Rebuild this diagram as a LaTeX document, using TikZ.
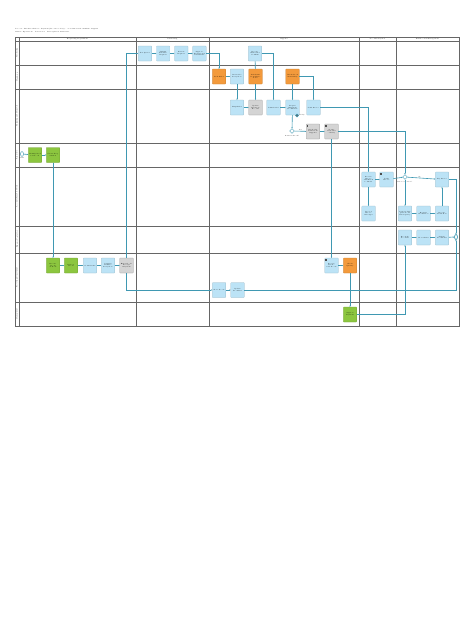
\documentclass[tikz,border=0pt]{standalone}
\usepackage{tikz}
\usepackage{xcolor}
\usetikzlibrary{positioning,arrows.meta,shapes.geometric}

\definecolor{taskblue}{HTML}{BCE3F6}
\definecolor{taskgreen}{HTML}{8CC63F}
\definecolor{taskorange}{HTML}{F39A3C}
\definecolor{taskgray}{HTML}{D4D4D4}
\definecolor{flowteal}{HTML}{3F98B2}
\definecolor{laneline}{HTML}{666666}

\tikzset{
    box/.style={rounded corners=0.6pt, minimum width=13.5pt, minimum height=15pt,
        text width=12pt, align=center, inner sep=0.5pt, font=\fontsize{1.5}{1.8}\selectfont},
    task/.style={box, fill=taskblue, draw=taskblue!80!black, line width=0.15pt},
    grouptask/.style={box, fill=taskgreen, draw=taskgreen!80!black, line width=0.15pt},
    manualtask/.style={box, fill=taskorange, draw=taskorange!80!black, line width=0.15pt},
    systask/.style={box, fill=taskgray, draw=taskgray!70!black, line width=0.15pt},
    gate/.style={diamond, draw=flowteal, fill=white, line width=0.35pt, minimum size=5pt, inner sep=0pt},
    event/.style={ellipse, draw=flowteal, fill=white, line width=0.4pt, minimum width=3pt, minimum height=5pt, inner sep=0pt},
    flow/.style={draw=flowteal, line width=0.6pt, -{Stealth[length=1.4pt,width=1.3pt]}},
    lane/.style={draw=laneline, line width=0.7pt},
    tinytext/.style={font=\fontsize{1.5}{1.8}\selectfont, inner sep=0.3pt},
    icon/.style={fill=black!70, minimum width=1.4pt, minimum height=1.8pt, inner sep=0pt}
}

\begin{document}
\begin{tikzpicture}[x=1pt, y=-1pt]
    \useasboundingbox (0,0) rectangle (474,632);

    % title lines
    \node[tinytext, anchor=west] (title1) at (15,29.5) {Process: Purchase Order to Payment (Procure-to-Pay) -- cross-functional swimlane diagram};
    \node[tinytext, anchor=west] (title2) at (15,32.5) {Owner: Operations \quad Version 1.0 \quad Last updated 2021-03-15};

    % frame, lanes and columns
    \draw[lane] (15,37) rectangle (459,326);
    \draw[lane, line width=0.4pt] (15,41) -- (459,41);
    \foreach \y in {65,89,143,167,226,253,302}
        \draw[lane] (15,\y) -- (459,\y);
    \draw[lane, line width=0.4pt] (19,37) -- (19,326);
    \foreach \x in {136,209,359,396}
        \draw[lane] (\x,37) -- (\x,326);

    % column headers
    \node[tinytext] (colA) at (77.5,39) {Requesting Department};
    \node[tinytext] (colB) at (172.5,39) {Purchasing};
    \node[tinytext] (colC) at (284,39) {Supplier};
    \node[tinytext] (colD) at (377.5,39) {Accounts Payable};
    \node[tinytext] (colE) at (427.5,39) {Finance and Management};

    % lane labels
    \node[tinytext, rotate=90] (laneA) at (17,53) {Purchasing};
    \node[tinytext, rotate=90] (laneB) at (17,77) {Warehouse};
    \node[tinytext, rotate=90] (laneC) at (17,116) {Shipping and Dispatch};
    \node[tinytext, rotate=90] (laneD) at (17,155) {Requester};
    \node[tinytext, rotate=90] (laneE) at (17,196.5) {Accounts Payable Clerk};
    \node[tinytext, rotate=90] (laneF) at (17,239.5) {Finance Controller};
    \node[tinytext, rotate=90] (laneG) at (17,277.5) {Receiving Department};
    \node[tinytext, rotate=90] (laneH) at (17,314) {Management};

    % lane 1
    \node[task] (quote) at (145,53.5) {Get Quotes};
    \node[task, right=4.5pt of quote] (submit) {Submit Purchase Request};
    \node[task, right=4.5pt of submit] (review) {Review Request};
    \node[task, right=4.5pt of review] (approve) {Approve Request and Send Order};
    \node[task] (receive) at (255,53.5) {Receive Order and Confirm};

    % lane 2
    \node[manualtask] (pack) at (219,76.5) {Pack Order};
    \node[task] (note) at (237,76.5) {Create Delivery Note};
    \node[manualtask] (pick) at (255.5,76.5) {Pick Items from Warehouse};
    \node[manualtask] (stock) at (292.5,76.5) {Check Stock Availability};

    % lane 3
    \node[task] (ship) at (237,107.5) {Ship Order};
    \node[systask] (inventory) at (255.5,107.5) {Update Inventory Records};
    \node[task] (label) at (273.5,107.5) {Print Label};
    \node[task] (docs) at (292.5,107.5) {Prepare Shipment Documents};
    \node[task] (invoice) at (313.5,107.5) {Send Invoice};
    \node[event, fill=black!60, minimum width=3pt, minimum height=3pt] (delay) at (297,115.5) {};
    \node[tinytext, right=0.3pt of delay] (delaytxt) {Delay};
    \node[gate] (instock) at (292,131) {};
    \node[tinytext, below=0.8pt of instock] (instocktxt) {Items in Stock?};
    \node[systask] (backorder) at (313,131.5) {Backorder Items from Supplier};
    \node[systask] (notify) at (331.5,131.5) {Notify Customer of Delay};

    % lane 4
    \node[event] (start) at (22,154) {};
    \node[tinytext, below=0.5pt of start] (starttxt) {Start};
    \node[grouptask] (need) at (35,155) {Identify Need for Goods};
    \node[grouptask] (requisition) at (53,155) {Create Requisition};

    % lane 5
    \node[task] (match) at (368.5,179.5) {Receive Invoice and Match to Order};
    \node[task] (verify) at (386.5,179.5) {Verify Invoice};
    \node[gate] (correct) at (405,177) {};
    \node[tinytext, below=0.8pt of correct] (correcttxt) {Invoice Correct?};
    \node[task] (pay) at (442,179.5) {Pay Invoice};
    \node[task] (ledger) at (368.5,213.5) {Record Invoice in Ledger};
    \node[task] (contact) at (405,213.5) {Contact Supplier about Discrepancy};
    \node[task] (credit) at (423.5,213.5) {Request Credit Note};
    \node[task] (creditin) at (442,213.5) {Receive Credit Note};

    % lane 6
    \node[task] (reconcile) at (405,237.5) {Reconcile Accounts};
    \node[task] (close) at (423.5,237.5) {Close Order};
    \node[task] (archive) at (442,237.5) {Archive Documents};
    \node[event, line width=0.7pt] (finish) at (456,237) {};

    % lane 7
    \node[grouptask] (dock) at (53,265.5) {Receive Goods at Dock};
    \node[grouptask] (inspect) at (71,265.5) {Inspect Goods};
    \node[task] (count) at (90,265.5) {Count Items};
    \node[task] (compare) at (108,265.5) {Compare with Delivery Note};
    \node[systask] (entry) at (126.5,265.5) {Enter Goods Receipt in System};
    \node[task] (backin) at (331.5,265.5) {Receive Backorder Goods};
    \node[manualtask] (quality) at (350,265.5) {Check Quality};
    \node[task] (store) at (219,290) {Store Goods};
    \node[task] (stocklist) at (237.5,290) {Update Stock List};

    % lane 8
    \node[grouptask] (payok) at (350,314.5) {Approve Payment};

    % small task markers
    \foreach \n in {backorder,notify,verify,backin}
        \node[icon, anchor=north west] at ([xshift=0.6pt,yshift=-0.6pt]\n.north west) {};

    % flows
    \draw[flow] (start) -- (need);
    \draw[flow] (need) -- (requisition);
    \draw[flow] (requisition) -- (dock);
    \draw[flow] (dock) -- (inspect);
    \draw[flow] (inspect) -- (count);
    \draw[flow] (count) -- (compare);
    \draw[flow] (compare) -- (entry);
    \draw[flow] (entry.north) |- (quote.west);
    \draw[flow] (entry.south) |- (store.west);
    \draw[flow] (quote) -- (submit);
    \draw[flow] (submit) -- (review);
    \draw[flow] (review) -- (approve);
    \draw[flow] (approve.east) -| (pack.north);
    \draw[flow] (pack) -- (note);
    \draw[flow] (note) -- (ship);
    \draw[flow] (ship) -- (inventory);
    \draw[flow] (receive) -- (pick);
    \draw[flow] (receive.east) -| (label.north);
    \draw[flow] (pick) -- (inventory);
    \draw[flow] (label) -- (docs);
    \draw[flow] (stock) -- (docs);
    \draw[flow] (stock.east) -| (invoice.north);
    \draw[flow] (docs) -- (instock);
    \draw[flow] (instock) -- node[tinytext, above]{Yes} (backorder);
    \draw[flow] (backorder) -- (notify);
    \draw[flow] (notify.east) -| (correct.north);
    \draw[flow] (notify) -- (backin);
    \draw[flow] (invoice.east) -| (match.north);
    \draw[flow] (backin) -- (quality);
    \draw[flow] (quality) -- (payok);
    \draw[flow] (payok.east) -| (reconcile.south);
    \draw[flow] (match) -- (verify);
    \draw[flow] (verify) -- (correct);
    \draw[flow] (correct) -- node[tinytext, above, pos=0.45]{No} (pay);
    \draw[flow] (correct) -- (contact);
    \draw[flow] (contact) -- (credit);
    \draw[flow] (credit) -- (creditin);
    \draw[flow] (creditin) -- (pay);
    \draw[flow] (match) -- (ledger);
    \draw[flow] (pay.east) -| (finish.north);
    \draw[flow] (reconcile) -- (close);
    \draw[flow] (close) -- (archive);
    \draw[flow] (archive) -- (finish);
    \draw[flow] (store) -- (stocklist);
    \draw[flow] (stocklist.east) -| (finish.south);
\end{tikzpicture}
\end{document}
